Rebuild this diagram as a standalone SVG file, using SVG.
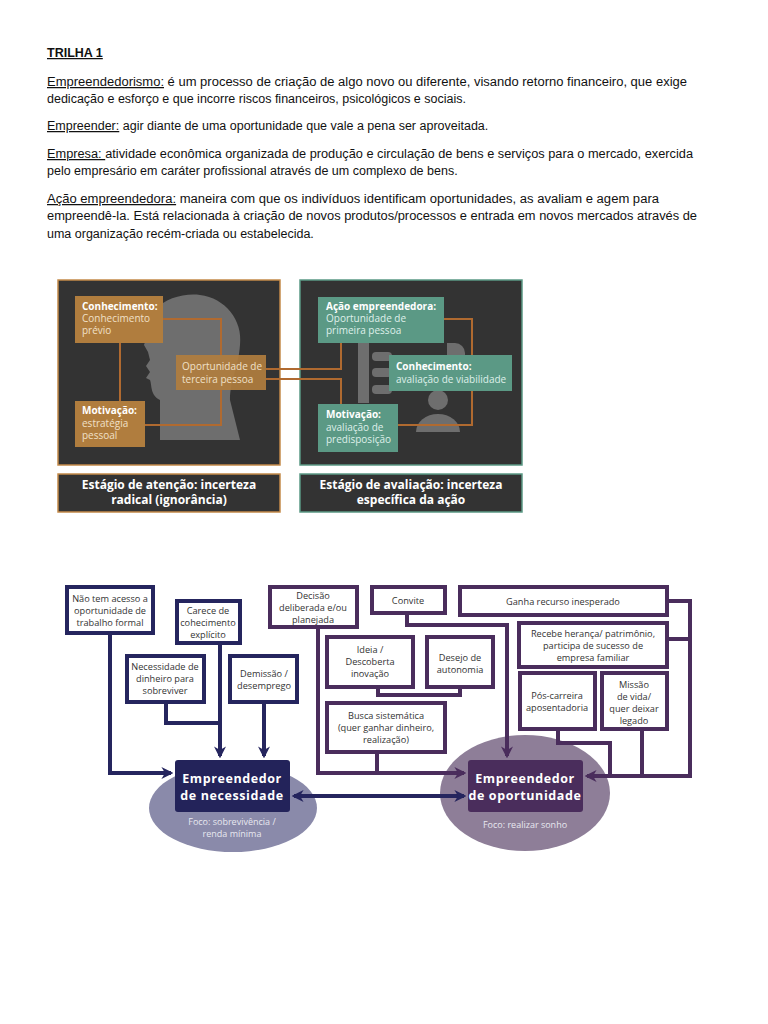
<svg xmlns="http://www.w3.org/2000/svg" width="768" height="1024" viewBox="0 0 768 1024">
<style>
.t{font-family:"Liberation Sans",Arial,sans-serif;font-size:12.5px;fill:#111}
.u{text-decoration:underline}
.pan{fill:#333333}
.ob{fill:#b07d3e}
.gb{fill:#5b9985}
.ol{fill:none;stroke:#b06a30;stroke-width:2}
.wt{font-family:"Open Sans",sans-serif;font-size:10px;fill:#f0e0c8}
.wb{font-family:"Open Sans",sans-serif;font-size:10px;fill:#fff;font-weight:bold}
.gt{font-family:"Open Sans",sans-serif;font-size:10px;fill:#dff0ea}
.cap{font-family:"Open Sans",sans-serif;font-size:12px;fill:#fff;font-weight:bold;text-anchor:middle}
.nb{fill:#fff;stroke:#25255e;stroke-width:4}
.pb{fill:#fff;stroke:#4a2d5c;stroke-width:4}
.bt{font-family:"Open Sans",sans-serif;font-size:9.2px;fill:#333;text-anchor:middle}
.nl{fill:none;stroke:#25255e;stroke-width:4}
.pl{fill:none;stroke:#4a2d5c;stroke-width:4}
.big{font-family:"Open Sans",sans-serif;font-size:12.5px;fill:#fff;font-weight:bold;text-anchor:middle;letter-spacing:0.6px}
.ft{font-family:"Open Sans",sans-serif;font-size:9px;fill:#e8e8f0;text-anchor:middle}
</style>
<defs>
<marker id="an" viewBox="0 0 10 10" refX="8" refY="5" markerWidth="3" markerHeight="3" orient="auto-start-reverse"><path d="M0,0L10,5L0,10L3,5z" fill="#25255e"/></marker>
<marker id="ap" viewBox="0 0 10 10" refX="8" refY="5" markerWidth="3" markerHeight="3" orient="auto-start-reverse"><path d="M0,0L10,5L0,10L3,5z" fill="#4a2d5c"/></marker>
</defs>
<rect width="768" height="1024" fill="#fff"/>
<g id="text">
<text class="t u" x="47" y="57" font-weight="bold">TRILHA 1</text>
<text class="t" x="47" y="86" textLength="640" lengthAdjust="spacingAndGlyphs"><tspan class="u">Empreendedorismo:</tspan> é um processo de criação de algo novo ou diferente, visando retorno financeiro, que exige</text>
<text class="t" x="47" y="103">dedicação e esforço e que incorre riscos financeiros, psicológicos e sociais.</text>
<text class="t" x="47" y="130"><tspan class="u">Empreender:</tspan> agir diante de uma oportunidade que vale a pena ser aproveitada.</text>
<text class="t" x="47" y="158" textLength="646" lengthAdjust="spacingAndGlyphs"><tspan class="u">Empresa: </tspan>atividade econômica organizada de produção e circulação de bens e serviços para o mercado, exercida</text>
<text class="t" x="47" y="175">pelo empresário em caráter profissional através de um complexo de bens.</text>
<text class="t" x="47" y="203" textLength="612" lengthAdjust="spacingAndGlyphs"><tspan class="u">Ação empreendedora:</tspan> maneira com que os indivíduos identificam oportunidades, as avaliam e agem para</text>
<text class="t" x="47" y="220" textLength="650" lengthAdjust="spacingAndGlyphs">empreendê-la. Está relacionada à criação de novos produtos/processos e entrada em novos mercados através de</text>
<text class="t" x="47" y="238">uma organização recém-criada ou estabelecida.</text>
</g>
<g id="panel-left">
<rect x="58" y="280" width="222" height="185" class="pan" stroke="#c48a4a" stroke-width="1.5"/>
<path d="M160,440 L160,400 C150,395 152,385 150,380 L146,378 150,372 146,366 150,360 148,352 144,345 C150,330 150,320 155,310 C165,298 185,293 200,295 C225,298 243,320 240,345 C238,370 230,380 230,400 L240,440 Z" fill="#6e6e6e"/>
<rect x="58" y="474" width="222" height="38" class="pan" stroke="#c48a4a" stroke-width="1.5"/>
<text class="cap" x="169" y="489">Estágio de atenção: incerteza</text>
<text class="cap" x="169" y="504">radical (ignorância)</text>
</g>
<g id="panel-right">
<rect x="300" y="280" width="222" height="185" class="pan" stroke="#5b9985" stroke-width="1.5"/>
<rect x="358" y="343" width="11" height="60" fill="#6e6e6e"/>
<rect x="372" y="352" width="20" height="9" rx="4" fill="#6e6e6e"/>
<rect x="372" y="368" width="20" height="9" rx="4" fill="#6e6e6e"/>
<rect x="372" y="385" width="20" height="9" rx="4" fill="#6e6e6e"/>
<path d="M447,343 h8 a10,10 0 0 1 10,10 v2 h-18 z" fill="#6e6e6e"/>
<circle cx="438" cy="400" r="10" fill="#6e6e6e"/>
<path d="M416,432 a22,18 0 0 1 44,0 z" fill="#6e6e6e"/>
<rect x="300" y="474" width="222" height="38" class="pan" stroke="#5b9985" stroke-width="1.5"/>
<text class="cap" x="411" y="489">Estágio de avaliação: incerteza</text>
<text class="cap" x="411" y="504">específica da ação</text>
</g>
<g id="connectors-top">
<path class="ol" d="M163,319 H221 V355 M120,343 V401 M145,425 H221 V390 M266,369 H341 V343 M266,379 H341 V404 M444,319 H472 V355 M472,391 V425 H398"/>
</g>
<g id="n-conh1"><rect x="75" y="296" width="88" height="47" class="ob"/>
<text class="wb" x="82" y="310">Conhecimento:</text><text class="wt" x="82" y="322">Conhecimento</text><text class="wt" x="82" y="334">prévio</text></g>
<g id="n-oport3"><rect x="176" y="355" width="90" height="35" class="ob" opacity="0.92"/>
<text class="wt" x="182" y="370">Oportunidade de</text><text class="wt" x="182" y="383">terceira pessoa</text></g>
<g id="n-motiv1"><rect x="75" y="401" width="70" height="46" class="ob"/>
<text class="wb" x="82" y="414">Motivação:</text><text class="wt" x="82" y="427">estratégia</text><text class="wt" x="82" y="439">pessoal</text></g>
<g id="n-acao"><rect x="318" y="297" width="126" height="46" class="gb"/>
<text class="wb" x="326" y="310">Ação empreendedora:</text><text class="gt" x="326" y="322">Oportunidade de</text><text class="gt" x="326" y="334">primeira pessoa</text></g>
<g id="n-conh2"><rect x="389" y="355" width="123" height="36" class="gb"/>
<text class="wb" x="396" y="370">Conhecimento:</text><text class="gt" x="396" y="383">avaliação de viabilidade</text></g>
<g id="n-motiv2"><rect x="318" y="404" width="80" height="48" class="gb"/>
<text class="wb" x="326" y="418">Motivação:</text><text class="gt" x="326" y="431">avaliação de</text><text class="gt" x="326" y="443">predisposição</text></g>

<ellipse cx="233" cy="808" rx="84" ry="44" fill="#8a8aaa"/>
<ellipse cx="525" cy="793" rx="85" ry="58" fill="#8e7e98"/>
<g id="connectors-bottom">
<path class="nl" d="M110,633 V773 H171" marker-end="url(#an)"/>
<path class="nl" d="M220,643 V756" marker-end="url(#an)"/>
<path class="nl" d="M166,702 V723 H220"/>
<path class="nl" d="M264,702 V756" marker-end="url(#an)"/>
<path class="nl" d="M294,796 H464" marker-start="url(#an)" marker-end="url(#an)"/>
<path class="pl" d="M318,627 V773 H464" marker-end="url(#ap)"/>
<path class="pl" d="M377,752 V773"/>
<path class="pl" d="M378,687 V695 H460 V687"/>
<path class="pl" d="M407,613 V625 H507 V756" marker-end="url(#ap)"/>
<path class="pl" d="M667,601 H690 V776 H587" marker-end="url(#ap)"/>
<path class="pl" d="M667,639 H690"/>
<path class="pl" d="M558,729 V743 H610 V776"/>
<path class="pl" d="M642,729 V776"/>
</g>
<g id="n-naotem"><rect x="67" y="587" width="86" height="46" class="nb"/>
<text class="bt" x="110" y="602">Não tem acesso a</text><text class="bt" x="110" y="614">oportunidade de</text><text class="bt" x="110" y="626">trabalho formal</text></g>
<g id="n-carece"><rect x="177" y="601" width="63" height="42" class="nb"/>
<text class="bt" x="208" y="614">Carece de</text><text class="bt" x="208" y="626">cohecimento</text><text class="bt" x="208" y="638">explícito</text></g>
<g id="n-necess"><rect x="127" y="656" width="77" height="46" class="nb"/>
<text class="bt" x="165" y="670">Necessidade de</text><text class="bt" x="165" y="682">dinheiro para</text><text class="bt" x="165" y="694">sobreviver</text></g>
<g id="n-demissao"><rect x="230" y="656" width="67" height="46" class="nb"/>
<text class="bt" x="264" y="677">Demissão /</text><text class="bt" x="264" y="689">desemprego</text></g>
<g id="n-empnec"><rect x="175" y="760" width="115" height="52" rx="3" fill="#23235a"/>
<text class="big" x="232" y="783">Empreendedor</text><text class="big" x="232" y="800">de necessidade</text>
<text class="ft" x="232" y="825">Foco: sobrevivência /</text><text class="ft" x="232" y="837">renda mínima</text></g>
<g id="n-decisao"><rect x="270" y="587" width="87" height="40" class="pb"/>
<text class="bt" x="313" y="599">Decisão</text><text class="bt" x="313" y="611">deliberada e/ou</text><text class="bt" x="313" y="623">planejada</text></g>
<g id="n-convite"><rect x="372" y="587" width="73" height="26" class="pb"/>
<text class="bt" x="408" y="604">Convite</text></g>
<g id="n-ganha"><rect x="460" y="587" width="207" height="28" class="pb"/>
<text class="bt" x="563" y="605">Ganha recurso inesperado</text></g>
<g id="n-recebe"><rect x="519" y="623" width="148" height="44" class="pb"/>
<text class="bt" x="593" y="637">Recebe herança/ patrimônio,</text><text class="bt" x="593" y="649">participa de sucesso de</text><text class="bt" x="593" y="661">empresa familiar</text></g>
<g id="n-ideia"><rect x="327" y="637" width="86" height="50" class="pb"/>
<text class="bt" x="370" y="653">Ideia /</text><text class="bt" x="370" y="665">Descoberta</text><text class="bt" x="370" y="677">inovação</text></g>
<g id="n-desejo"><rect x="427" y="637" width="66" height="50" class="pb"/>
<text class="bt" x="460" y="661">Desejo de</text><text class="bt" x="460" y="673">autonomia</text></g>
<g id="n-busca"><rect x="327" y="703" width="118" height="49" class="pb"/>
<text class="bt" x="386" y="719">Busca sistemática</text><text class="bt" x="386" y="731">(quer ganhar dinheiro,</text><text class="bt" x="386" y="743">realização)</text></g>
<g id="n-pos"><rect x="520" y="673" width="75" height="56" class="pb"/>
<text class="bt" x="557" y="699">Pós-carreira</text><text class="bt" x="557" y="711">aposentadoria</text></g>
<g id="n-missao"><rect x="602" y="673" width="65" height="56" class="pb"/>
<text class="bt" x="634" y="688">Missão</text><text class="bt" x="634" y="700">de vida/</text><text class="bt" x="634" y="712">quer deixar</text><text class="bt" x="634" y="724">legado</text></g>
<g id="n-empop"><rect x="468" y="760" width="115" height="52" rx="3" fill="#4a2d5c"/>
<text class="big" x="525" y="783">Empreendedor</text><text class="big" x="525" y="800">de oportunidade</text>
<text class="ft" x="525" y="828">Foco: realizar sonho</text></g>
</svg>
